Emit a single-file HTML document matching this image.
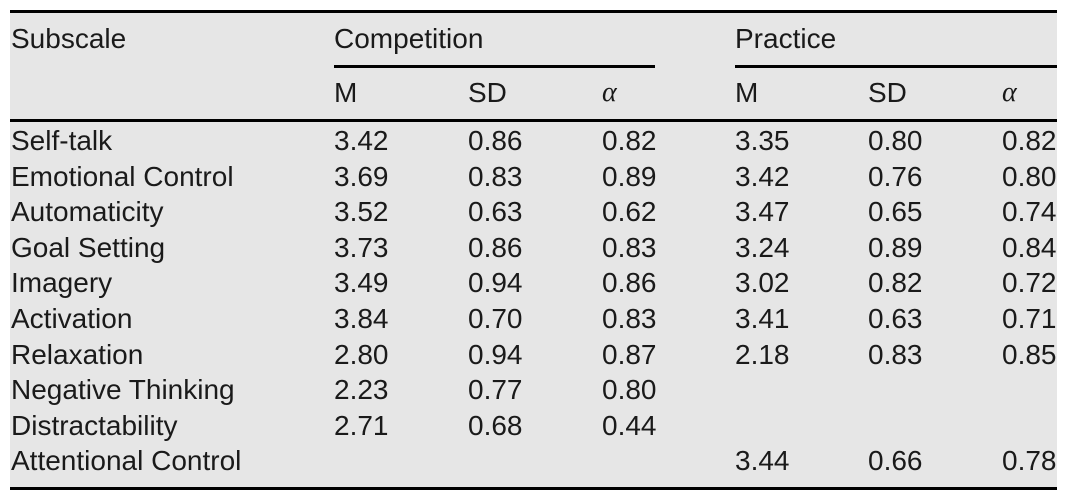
<!DOCTYPE html>
<html><head><meta charset="utf-8"><style>
html,body{margin:0;padding:0;background:#fff;}
#w{position:relative;width:1072px;height:496px;overflow:hidden;font-family:"Liberation Sans",sans-serif;font-size:28px;color:#1a1a1a;}
#bg{position:absolute;left:10px;top:10px;width:1047px;height:479px;background:#e6e6e6;}
.l{position:absolute;background:#000;}
.t{position:absolute;line-height:30px;white-space:nowrap;}
</style></head><body><div id="w">
<div id="bg"></div>
<div class="l" style="left:10px;top:10px;width:1047px;height:3px"></div>
<div class="l" style="left:334px;top:65px;width:321px;height:3px"></div>
<div class="l" style="left:735px;top:65px;width:322px;height:3px"></div>
<div class="l" style="left:10px;top:119px;width:1047px;height:3px"></div>
<div class="l" style="left:10px;top:487px;width:1047px;height:3px"></div>
<div class="t" style="left:11px;top:24px">Subscale</div>
<div class="t" style="left:334px;top:24px">Competition</div>
<div class="t" style="left:735px;top:24px">Practice</div>
<div class="t" style="left:334px;top:78px">M</div>
<div class="t" style="left:468px;top:78px">SD</div>
<div class="t" style="left:602px;top:78px;font-family:'Liberation Serif',serif;font-style:italic">α</div>
<div class="t" style="left:735px;top:78px">M</div>
<div class="t" style="left:868px;top:78px">SD</div>
<div class="t" style="left:1002px;top:78px;font-family:'Liberation Serif',serif;font-style:italic">α</div>
<div id="rows"></div>
</div>
<script>
var d=[["Self-talk","3.42","0.86","0.82","3.35","0.80","0.82"],
["Emotional Control","3.69","0.83","0.89","3.42","0.76","0.80"],
["Automaticity","3.52","0.63","0.62","3.47","0.65","0.74"],
["Goal Setting","3.73","0.86","0.83","3.24","0.89","0.84"],
["Imagery","3.49","0.94","0.86","3.02","0.82","0.72"],
["Activation","3.84","0.70","0.83","3.41","0.63","0.71"],
["Relaxation","2.80","0.94","0.87","2.18","0.83","0.85"],
["Negative Thinking","2.23","0.77","0.80","","",""],
["Distractability","2.71","0.68","0.44","","",""],
["Attentional Control","","","","3.44","0.66","0.78"]];
var xs=[11,334,468,602,735,868,1002],h="";
d.forEach(function(r,i){var y=Math.round(141+i*35.6-15);
r.forEach(function(c,j){if(c)h+='<div class="t" style="left:'+xs[j]+'px;top:'+y+'px">'+c+'</div>';});});
document.getElementById('w').insertAdjacentHTML('beforeend',h);
</script>
</body></html>
